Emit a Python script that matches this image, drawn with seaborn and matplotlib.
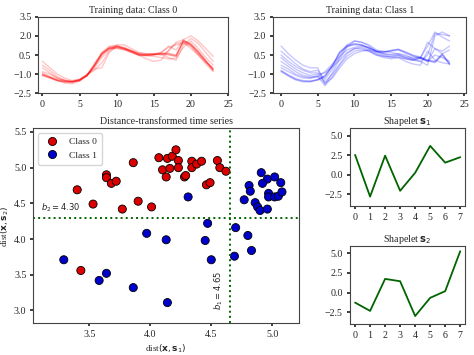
#Shapelet transform figure: training data, distance space and shapelets
import numpy as np
import pandas as pd
import seaborn as sns
import matplotlib
matplotlib.use("Agg")
import matplotlib.pyplot as plt

#Training series, class 0 (t = 0..23)
class0_series = [
    [-1.05,-1.25,-1.45,-1.55,-1.6,-1.45,-1.1,-0.35,0.55,1.05,1.15,1.0,0.8,0.55,0.5,0.55,0.65,0.6,0.45,1.6,1.35,0.8,0.1,-0.6],
    [-1.1,-1.3,-1.5,-1.6,-1.6,-1.5,-1.15,-0.4,0.5,1.0,1.1,0.95,0.75,0.5,0.5,0.55,0.6,0.55,0.4,1.55,1.3,0.7,0.0,-0.7],
    [-0.9,-1.2,-1.4,-1.5,-1.55,-1.4,-1.0,-0.6,-0.5,0.7,1.2,1.1,0.85,0.6,0.55,0.6,0.7,1.1,1.3,1.4,1.2,0.6,0.0,-0.6],
    [-0.5,-0.9,-1.3,-1.5,-1.6,-1.45,-1.05,-0.3,0.7,1.2,1.25,1.05,0.8,0.55,0.45,0.4,0.3,0.2,0.25,1.1,1.6,1.0,0.3,-0.3],
    [0.0,-0.5,-1.0,-1.3,-1.5,-1.4,-1.1,-0.5,0.3,0.9,1.3,1.3,1.0,0.7,0.6,0.6,0.5,0.8,1.5,1.7,2.0,1.6,1.0,0.4],
    [-1.0,-1.2,-1.5,-1.7,-1.75,-1.55,-1.1,-0.2,0.6,1.0,1.05,0.95,0.7,0.45,0.45,0.5,0.7,1.2,0.9,1.7,1.2,0.5,-0.2,-0.8],
    [-0.3,-0.7,-1.2,-1.45,-1.55,-1.45,-1.05,-0.7,-0.1,0.8,1.15,1.05,0.85,0.65,0.6,0.55,0.55,0.3,0.1,1.3,1.8,1.4,0.7,0.0],
    [-1.1,-1.3,-1.5,-1.6,-1.65,-1.5,-1.1,-0.3,0.6,1.1,1.15,1.0,0.8,0.55,0.5,0.5,0.6,0.65,0.5,1.6,1.4,0.7,0.0,-0.7],
    [-0.8,-1.0,-1.3,-1.5,-1.6,-1.5,-1.1,-0.2,0.7,1.0,1.0,0.9,0.7,0.5,0.2,0.0,0.1,0.9,1.4,1.5,1.0,0.5,-0.1,-0.5],
    [-1.0,-1.25,-1.5,-1.6,-1.6,-1.45,-1.1,-0.35,0.55,1.1,1.2,1.0,0.75,0.5,0.5,0.55,0.6,0.5,0.4,1.65,1.3,0.75,0.05,-0.65],
]

#Training series, class 1
class1_series = [
    [-0.75,-1.1,-1.4,-1.55,-1.55,-1.4,-1.15,-0.35,0.7,1.2,1.35,1.3,1.05,0.8,0.75,0.85,0.95,0.7,0.45,0.3,0.1,-0.05,0.55,-0.2],
    [-0.7,-1.05,-1.35,-1.5,-1.55,-1.45,-1.2,-0.4,0.65,1.15,1.3,1.25,1.0,0.75,0.75,0.8,0.9,0.65,0.4,0.25,0.05,-0.1,0.5,-0.25],
    [-0.8,-1.15,-1.45,-1.6,-1.6,-1.45,-1.1,-0.3,0.75,1.25,1.4,1.3,1.05,0.8,0.7,0.85,0.95,0.75,0.5,0.35,0.1,0.0,0.6,-0.15],
    [1.2,0.6,0.1,-0.3,-0.5,-0.5,-1.8,-0.9,0.2,1.1,1.6,1.5,1.2,0.8,0.6,0.5,0.5,0.3,0.2,0.3,1.2,2.3,1.9,1.6],
    [0.5,0.0,-0.4,-0.7,-0.9,-0.9,-1.6,-1.0,-0.2,0.6,1.0,1.1,0.9,0.6,0.4,0.3,0.4,0.2,0.1,0.0,0.5,2.2,2.1,2.0],
    [0.0,-0.4,-0.8,-1.1,-1.2,-1.2,-1.9,-1.2,-0.3,0.4,0.8,0.9,0.8,0.5,0.3,0.2,0.3,0.0,-0.2,-0.3,0.8,0.1,-0.1,-0.2],
    [-0.3,-0.6,-1.0,-1.2,-1.3,-1.2,-0.8,-0.2,0.4,0.9,1.1,1.2,1.1,0.8,0.6,0.55,0.6,0.4,0.3,0.3,0.0,1.0,0.8,1.2],
    [0.8,0.3,-0.2,-0.6,-0.8,-0.7,-1.4,-0.6,0.4,1.3,1.6,1.5,1.3,0.9,0.8,0.7,0.6,0.5,0.2,0.0,-0.3,2.0,2.3,2.0],
    [-0.5,-0.8,-1.1,-1.3,-1.3,-1.1,-1.7,-1.3,-0.5,0.2,0.6,0.8,0.9,0.7,0.5,0.35,0.3,0.2,0.1,0.3,0.0,0.5,0.3,0.0],
    [0.3,-0.2,-0.6,-0.9,-1.1,-1.0,-0.9,-0.4,0.1,0.7,1.0,1.0,0.8,0.5,0.4,0.4,0.5,0.3,0.1,0.2,1.5,1.0,0.6,0.9],
]

#Distance-transformed points
red_x = [3.40,3.53,3.64,3.64,3.68,3.72,3.86,3.77,3.90,4.01,4.07,4.10,4.14,4.18,4.21,4.16,4.13,4.23,4.23,4.28,
         4.29,4.34,4.34,4.38,4.42,4.46,4.49,4.55,4.57,4.62,3.43]
red_y = [4.69,4.49,4.90,4.86,4.78,4.81,5.07,4.42,4.53,4.45,5.14,4.97,5.13,5.16,5.25,4.99,4.87,5.10,5.00,4.87,
         4.89,5.09,5.00,5.05,5.09,4.76,4.79,5.10,5.00,4.95,3.56]
blue_x = [4.31,4.91,4.96,5.02,4.92,5.07,4.81,4.82,4.97,4.97,5.02,5.05,5.08,4.77,4.86,4.88,4.90,4.96,
          3.29,3.58,3.64,3.86,4.14,3.97,4.13,4.47,4.45,4.50,4.70,4.80,4.69,4.83]
blue_y = [4.59,4.93,4.84,4.87,4.78,4.79,4.75,4.67,4.64,4.59,4.59,4.60,4.66,4.55,4.51,4.45,4.40,4.42,
          3.71,3.42,3.52,3.32,3.11,4.08,3.99,4.22,3.98,3.71,4.16,4.05,3.76,3.84]
b1 = 4.65
b2 = 4.30

#Shapelets
shapelet_1 = [2.55,-2.8,2.45,-2.05,0.25,3.7,1.55,2.25]
shapelet_2 = [-1.25,-2.3,1.75,1.45,-2.95,-0.65,0.2,5.25]

sns.set_theme(style="ticks")
plt.rcParams['font.family'] = ['Liberation Serif', 'DejaVu Serif']
plt.rcParams['mathtext.fontset'] = 'dejavusans'
plt.rcParams['axes.edgecolor'] = '#444444'
plt.rcParams['axes.linewidth'] = 0.8
plt.rcParams['xtick.major.size'] = 2.5
plt.rcParams['ytick.major.size'] = 2.5
plt.rcParams['xtick.major.pad'] = 2.5
plt.rcParams['ytick.major.pad'] = 2.5
plt.rcParams['xtick.labelsize'] = 7.2
plt.rcParams['ytick.labelsize'] = 7.2

fig = plt.figure(figsize=(4.74, 3.55), dpi=100)
ax_c0 = fig.add_axes([0.081, 0.737, 0.400, 0.216])
ax_c1 = fig.add_axes([0.576, 0.737, 0.408, 0.216])
ax_sc = fig.add_axes([0.0703, 0.0893, 0.5606, 0.549])
ax_s1 = fig.add_axes([0.738, 0.4206, 0.244, 0.218])
ax_s2 = fig.add_axes([0.738, 0.0873, 0.244, 0.2206])


def to_long(series):
    rows = []
    for k, s in enumerate(series):
        for t, v in enumerate(s):
            rows.append((k, t, v))
    return pd.DataFrame(rows, columns=['series', 't', 'value'])


for ax, series, col, title, xl in [(ax_c0, class0_series, 'red', 'Training data: Class 0', (-0.55, 25)),
                                   (ax_c1, class1_series, 'blue', 'Training data: Class 1', (-1.1, 25.3))]:
    sns.lineplot(data=to_long(series), x='t', y='value', units='series', estimator=None,
                 color=col, alpha=0.22, lw=1.0, ax=ax)
    ax.set_xlim(*xl)
    ax.set_ylim(-2.5, 3.5)
    ax.set_xticks([0, 5, 10, 15, 20, 25])
    ax.set_yticks([-2.5, -1.0, 0.5, 2.0, 3.5])
    ax.set_xlabel('')
    ax.set_ylabel('')
    ax.set_title(title, fontsize=7.2, pad=3)

#Scatter of distances
pts = pd.DataFrame({'d1': red_x + blue_x,
                    'd2': red_y + blue_y,
                    'cls': ['Class 0'] * len(red_x) + ['Class 1'] * len(blue_x)})
sns.scatterplot(data=pts, x='d1', y='d2', hue='cls', palette={'Class 0': '#dd0000', 'Class 1': '#0000cc'},
                s=34, edgecolor='black', linewidth=0.6, ax=ax_sc)
ax_sc.axvline(b1, color='darkgreen', ls=':', lw=1.4)
ax_sc.axhline(b2, color='darkgreen', ls=':', lw=1.4)
ax_sc.text(3.1, b2 + 0.05, r'$b_2 = 4.30$', fontsize=6, va='bottom', ha='left')
ax_sc.text(b1 - 0.04, 3.0, r'$b_1 = 4.65$', fontsize=6, rotation=90, va='bottom', ha='right')
ax_sc.set_xlim(3.04, 5.22)
ax_sc.set_ylim(2.82, 5.55)
ax_sc.set_xticks([3.5, 4.0, 4.5, 5.0])
ax_sc.set_yticks([3.0, 3.5, 4.0, 4.5, 5.0, 5.5])
ax_sc.set_xlabel(r'dist$(\mathbf{x}, \mathbf{s}_1)$', fontsize=6.5, labelpad=2)
ax_sc.set_ylabel(r'dist$(\mathbf{x}, \mathbf{s}_2)$', fontsize=6.5, labelpad=2)
ax_sc.set_title('Distance-transformed time series', fontsize=7.2, pad=3)
handles, labels = ax_sc.get_legend_handles_labels()
ax_sc.legend(handles, labels, loc='upper left', fontsize=6.8, frameon=True, borderpad=0.5,
             handletextpad=0.8, markerscale=1.0)

#Shapelets
for ax, shp, title in [(ax_s1, shapelet_1, r'Shapelet $\mathbf{s}_1$'),
                       (ax_s2, shapelet_2, r'Shapelet $\mathbf{s}_2$')]:
    sns.lineplot(x=list(range(len(shp))), y=shp, color='darkgreen', lw=1.3, ax=ax)
    ax.set_xlim(-0.35, 7.35)
    ax.set_ylim(-3.96, 5.95)
    ax.set_xticks(range(8))
    ax.set_yticks([-2.5, 0.0, 2.5, 5.0])
    ax.set_title(title, fontsize=7.2, pad=3)

plt.savefig('out.png', dpi=100)
